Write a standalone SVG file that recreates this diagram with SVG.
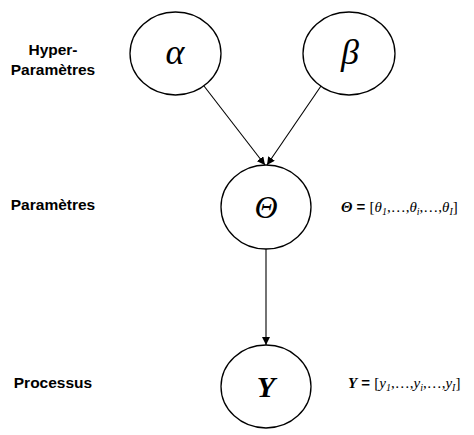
<svg xmlns="http://www.w3.org/2000/svg" width="474" height="435" viewBox="0 0 474 435">
<defs>
<style>
.node{fill:#fff;stroke:#000;stroke-width:1.3}
.lbl{font-family:"Liberation Sans",Arial,sans-serif;font-weight:bold;font-size:15.5px;fill:#000}
.sym{font-family:"Liberation Serif","Times New Roman",serif;font-style:italic;fill:#000;text-anchor:middle}
.eq{font-family:"Liberation Serif","Times New Roman",serif;font-size:15px;fill:#000}
.edge{stroke:#000;stroke-width:1.1;fill:none}
</style>
<marker id="arr" viewBox="0 0 10 10" refX="10" refY="5" markerWidth="8" markerHeight="8" markerUnits="userSpaceOnUse" orient="auto">
<path d="M0,0 L10,5 L0,10 z" fill="#000"/>
</marker>
</defs>
<rect width="474" height="435" fill="#fff"/>
<g id="labels">
<text class="lbl" x="53" y="55" text-anchor="middle">Hyper-</text>
<text class="lbl" x="53" y="75" text-anchor="middle">Paramètres</text>
<text class="lbl" x="53" y="210" text-anchor="middle">Paramètres</text>
<text class="lbl" x="53" y="388" text-anchor="middle">Processus</text>
</g>
<g id="connectors">
<line class="edge" x1="204" y1="86" x2="265" y2="165" marker-end="url(#arr)"/>
<line class="edge" x1="321" y1="86" x2="267" y2="165" marker-end="url(#arr)"/>
<line class="edge" x1="266" y1="249" x2="266" y2="345" marker-end="url(#arr)"/>
</g>
<g id="alpha">
<ellipse class="node" cx="175.5" cy="53.5" rx="45.5" ry="41.5"/>
<text class="sym" x="175" y="64" font-size="36">α</text>
</g>
<g id="beta">
<ellipse class="node" cx="349" cy="53.5" rx="46" ry="41.5"/>
<text class="sym" x="350" y="64" font-size="36">β</text>
</g>
<g id="theta">
<ellipse class="node" cx="266" cy="207" rx="45" ry="42"/>
<text class="sym" x="266" y="218" font-size="32">Θ</text>
</g>
<g id="y">
<ellipse class="node" cx="266" cy="386.5" rx="45" ry="41.5"/>
<text class="sym" x="266" y="397" font-size="30" font-weight="bold">Y</text>
</g>
<g id="eq-theta">
<text class="eq" x="341" y="212"><tspan font-style="italic" font-weight="bold">Θ</tspan><tspan font-weight="bold" font-family="Liberation Sans,sans-serif"> = </tspan>[<tspan font-style="italic">θ</tspan><tspan font-size="10" dy="3" font-style="italic">1</tspan><tspan dy="-3">,…,</tspan><tspan font-style="italic">θ</tspan><tspan font-size="10" dy="3" font-style="italic">i</tspan><tspan dy="-3">,…,</tspan><tspan font-style="italic">θ</tspan><tspan font-size="10" dy="3" font-style="italic">I</tspan><tspan dy="-3">]</tspan></text>
</g>
<g id="eq-y">
<text class="eq" x="348" y="388"><tspan font-style="italic" font-weight="bold">Y</tspan><tspan font-weight="bold" font-family="Liberation Sans,sans-serif"> = </tspan>[<tspan font-style="italic">y</tspan><tspan font-size="10" dy="3" font-style="italic">1</tspan><tspan dy="-3">,…,</tspan><tspan font-style="italic">y</tspan><tspan font-size="10" dy="3" font-style="italic">i</tspan><tspan dy="-3">,…,</tspan><tspan font-style="italic">y</tspan><tspan font-size="10" dy="3" font-style="italic">I</tspan><tspan dy="-3">]</tspan></text>
</g>
</svg>
